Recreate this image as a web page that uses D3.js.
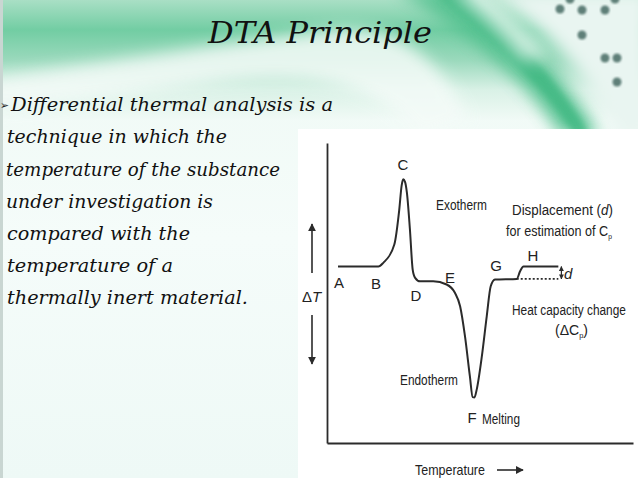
<!DOCTYPE html>
<html><head><meta charset="utf-8">
<script src="https://cdn.jsdelivr.net/npm/d3@7/dist/d3.min.js"></script>
<style>html,body{margin:0;padding:0;overflow:hidden;background:#fff}</style>
</head><body>
<script>
// ---- data ----
const titleText = "DTA Principle";
const bulletLines = [
  "Differential thermal analysis is a",
  "technique in which the",
  "temperature of the substance",
  "under investigation is",
  "compared with the",
  "temperature of a",
  "thermally inert material."
];
// DTA curve: temperature (arbitrary 0-100) vs ΔT (arbitrary units)
const temperature = [3.6,16.8,18.4,22.0,23.6,24.4,24.9,25.5,26.1,27.1,28.0,28.8,30.4,34.7,39.1,41.8,43.5,45.1,46.7,47.6,48.2,48.9,50.6,52.2,53.5,54.9,62.0,63.1,64.2,75.6];
const deltaT      = [0,0,2.1,12.5,32.0,46.0,49.4,48.0,42.0,21.0,-1.7,-6.4,-8.4,-8.4,-10.2,-14.9,-22.5,-39.6,-62.3,-74.0,-74.2,-69.9,-50.9,-28.2,-11.2,-7.4,-7.0,-2.7,0,0];
const baselineExtT = [62.0, 75.6];   // dotted extrapolated baseline
const baselineExtDT = [-7.0, -7.0];
const dispT = 76.6;                   // displacement d arrow
const dispDT = [0, -7.0];

const W = 638, H = 478;
const svg = d3.select("body").append("svg").attr("width", W).attr("height", H);
const defs = svg.append("defs");

// ---- background ----
const gTop = defs.append("linearGradient").attr("id","gTop").attr("x1",0).attr("y1",0).attr("x2",0).attr("y2",1);
[[0,"#a9dfc5"],[0.25,"#72cda3"],[0.5,"#9ad9bc"],[0.75,"#d9f1e6"],[1,"#f1faf6"]].forEach(s=>gTop.append("stop").attr("offset",s[0]).attr("stop-color",s[1]));
const gLeft = defs.append("linearGradient").attr("id","gLeft").attr("x1",0).attr("y1",0).attr("x2",0).attr("y2",1);
[[0,"#eef9f4"],[0.5,"#f5fcfa"],[1,"#eef9f6"]].forEach(s=>gLeft.append("stop").attr("offset",s[0]).attr("stop-color",s[1]));
defs.append("filter").attr("id","blur8").attr("x","-50%").attr("y","-50%").attr("width","200%").attr("height","200%")
  .append("feGaussianBlur").attr("stdDeviation",8);
defs.append("filter").attr("id","blur3").attr("x","-50%").attr("y","-50%").attr("width","200%").attr("height","200%")
  .append("feGaussianBlur").attr("stdDeviation",3);
defs.append("filter").attr("id","blur1").append("feGaussianBlur").attr("stdDeviation",1.2);

const bg = svg.append("g");
bg.append("rect").attr("width",W).attr("height",H).attr("fill","url(#gLeft)");
bg.append("rect").attr("width",W).attr("height",120).attr("fill","url(#gTop)");
bg.append("path").attr("d","M-20,80 C120,60 250,40 330,30 C400,22 440,60 470,120 L420,140 C380,80 300,70 200,85 C120,95 40,110 -20,110 Z")
  .attr("fill","#f4fbf8").attr("opacity",0.85).attr("filter","url(#blur8)");
bg.append("path").attr("d","M395,-10 C450,20 520,70 560,135 L600,135 C560,70 500,10 450,-10 Z")
  .attr("fill","#52c18f").attr("opacity",0.9).attr("filter","url(#blur8)");
bg.append("path").attr("d","M430,-10 C480,30 540,80 575,135 L590,135 C555,75 500,20 460,-10 Z")
  .attr("fill","#3fb882").attr("opacity",0.8).attr("filter","url(#blur3)");
bg.append("path").attr("d","M490,-10 C560,40 600,90 620,140 L650,140 L650,-10 Z")
  .attr("fill","#e9f5f1").attr("filter","url(#blur8)");
bg.append("path").attr("d","M480,-10 C520,20 540,40 548,60 L520,60 C500,30 470,10 450,-10 Z")
  .attr("fill","#f0faf6").attr("opacity",0.7).attr("filter","url(#blur8)");
bg.append("rect").attr("x",0).attr("y",0).attr("width",3).attr("height",H).attr("fill","#c9d6d2");
const dots = [[560,9],[582,10],[605,10],[582,35],[605,58],[617,58],[617,82],[570,-1],[615,-1]];
bg.selectAll("circle.dot").data(dots).join("circle").attr("class","dot")
  .attr("cx",d=>d[0]).attr("cy",d=>d[1]).attr("r",4.5).attr("fill","#5f7f78").attr("filter","url(#blur1)");

// ---- title and bullet text ----
svg.append("text").attr("x",208).attr("y",43).attr("textLength",224).attr("lengthAdjust","spacingAndGlyphs")
  .attr("font-family","DejaVu Serif").attr("font-style","italic").attr("font-size",29).attr("fill","#111")
  .text(titleText);

const lineX = [11,7,6,6,7,7,7];
const lineW = [322,220,274,207,183,166,241];
const lineY = [111,143,176,208,240,272,304];
svg.append("text").attr("x",0).attr("y",109).attr("font-family","DejaVu Sans").attr("font-size",11).attr("fill","#222")
  .attr("textLength",9).attr("lengthAdjust","spacingAndGlyphs").text("➢");
svg.selectAll("text.bl").data(bulletLines).join("text").attr("class","bl")
  .attr("x",(d,i)=>lineX[i]).attr("y",(d,i)=>lineY[i])
  .attr("textLength",(d,i)=>lineW[i]).attr("lengthAdjust","spacingAndGlyphs")
  .attr("font-family","DejaVu Serif").attr("font-style","italic").attr("font-size",18).attr("fill","#111")
  .text(d=>d);

// ---- diagram panel ----
svg.append("rect").attr("x",298).attr("y",129).attr("width",W-298).attr("height",H-129).attr("fill","#fff");

const x = d3.scaleLinear().domain([0,100]).range([327,633]);
const y = d3.scaleLinear().domain([-100,70]).range([443,143]);
const ink = "#2b2b2b";

svg.append("g").attr("transform","translate(327,0)")
  .call(d3.axisLeft(y).ticks(0).tickSizeOuter(0))
  .call(g=>g.select(".domain").attr("stroke",ink).attr("stroke-width",1.8));
svg.append("g").attr("transform","translate(0,443)")
  .call(d3.axisBottom(x).ticks(0).tickSizeOuter(0))
  .call(g=>g.select(".domain").attr("stroke",ink).attr("stroke-width",1.8));

const pts = temperature.map((t,i)=>[t,deltaT[i]]);
const line = d3.line().x(d=>x(d[0])).y(d=>y(d[1])).curve(d3.curveMonotoneX);
svg.append("path").datum(pts).attr("d",line).attr("fill","none").attr("stroke",ink).attr("stroke-width",2);

svg.append("path").datum(baselineExtT.map((t,i)=>[t,baselineExtDT[i]]))
  .attr("d",d3.line().x(d=>x(d[0])).y(d=>y(d[1])))
  .attr("fill","none").attr("stroke",ink).attr("stroke-width",1.6).attr("stroke-dasharray","2,2");

defs.append("marker").attr("id","ah").attr("viewBox","0 0 10 10").attr("refX",9).attr("refY",5)
  .attr("markerWidth",8).attr("markerHeight",8).attr("markerUnits","userSpaceOnUse").attr("orient","auto-start-reverse")
  .append("path").attr("d","M0,0 L10,5 L0,10 Z").attr("fill",ink);
defs.append("marker").attr("id","ahs").attr("viewBox","0 0 10 10").attr("refX",9).attr("refY",5)
  .attr("markerWidth",5).attr("markerHeight",5).attr("markerUnits","userSpaceOnUse").attr("orient","auto-start-reverse")
  .append("path").attr("d","M0,0 L10,5 L0,10 Z").attr("fill",ink);

svg.append("line").attr("x1",x(dispT)).attr("x2",x(dispT)).attr("y1",y(dispDT[0])).attr("y2",y(dispDT[1]))
  .attr("stroke",ink).attr("stroke-width",1.2).attr("marker-start","url(#ahs)").attr("marker-end","url(#ahs)");
svg.append("line").attr("x1",312).attr("x2",312).attr("y1",273).attr("y2",224)
  .attr("stroke",ink).attr("stroke-width",1.6).attr("marker-end","url(#ah)");
svg.append("line").attr("x1",312).attr("x2",312).attr("y1",315).attr("y2",364)
  .attr("stroke",ink).attr("stroke-width",1.6).attr("marker-end","url(#ah)");
svg.append("line").attr("x1",497).attr("x2",523).attr("y1",470).attr("y2",470)
  .attr("stroke",ink).attr("stroke-width",1.6).attr("marker-end","url(#ah)");

// labels
const lf = "'Liberation Sans Narrow','Liberation Sans',Arial,sans-serif";
const lab = svg.append("g").attr("font-family",lf).attr("font-size",15).attr("fill","#222");
const letters = [["C",403,170],["A",339,288],["B",376,289],["D",416,301],["E",450,283],["G",496,271],["H",533,261],["F",472,423]];
lab.selectAll("text.lt").data(letters).join("text").attr("class","lt")
  .attr("x",d=>d[1]).attr("y",d=>d[2]).attr("text-anchor","middle").text(d=>d[0]);

function label(parts, x0, y0, w){
  const g = lab.append("g").attr("transform",`translate(${x0},${y0})`);
  const t = g.append("text").attr("x",0).attr("y",0);
  let sub = false;
  parts.forEach(p=>{
    const s = t.append("tspan").text(p[0]);
    const o = p[1]||{};
    if(o.italic) s.attr("font-style","italic");
    if(o.sub){ s.attr("font-size",8).attr("dy",3); sub = true; }
    else if(sub){ s.attr("dy",-3); sub = false; }
  });
  if(w){
    const nat = t.node().getComputedTextLength();
    const k = Math.min(1, w/nat);
    g.attr("transform",`translate(${x0},${y0}) scale(${k},1)`);
  }
  return g;
}
label([["Exotherm"]],436,210,51);
label([["Endotherm"]],400,385,58);
label([["Melting"]],482,424,38);
label([["Temperature"]],415,475,70);
label([["Displacement ("],["d",{italic:true}],[")"]],512,215,101);
label([["for estimation of C"],["p",{sub:true}]],506,236,106);
label([["Heat capacity change"]],512,315,114);
label([["(ΔC"],["p",{sub:true}],[")"]],555,335,33);
label([["Δ"],["T",{italic:true}]],302,302,20);
label([["d",{italic:true}]],564,279);
</script>
</body></html>
